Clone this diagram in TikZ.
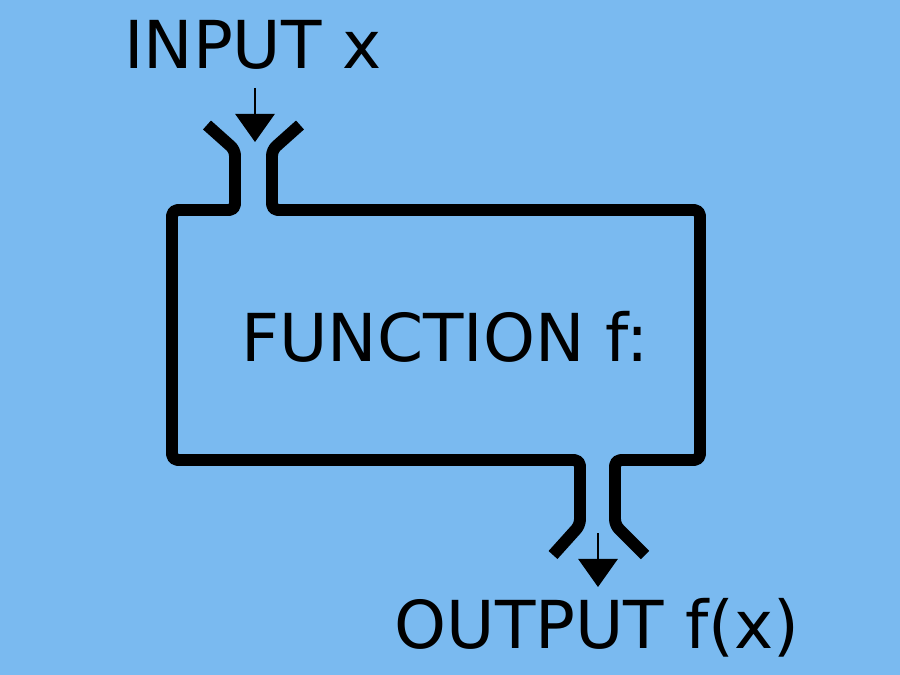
\documentclass[tikz,border=0pt]{standalone}
\usepackage{fontspec}
\setmainfont{DejaVu Sans}
\usetikzlibrary{arrows.meta}
\begin{document}
\begin{tikzpicture}[x=0.025cm, y=-0.025cm, font=\fontsize{47}{48}\selectfont]
	\tikzstyle{wallStyle}=[line width = 8.5pt, line join = round, rounded corners = 4pt]
	\tikzstyle{arrowStyle}=[line width = 1.5pt, -{Triangle[width = 28pt, length = 20pt]}]
	\tikzstyle{labelStyle}=[inner sep = 0pt, anchor = base]
	\fill[fill={rgb,255:red,122;green,186;blue,240}] (0,0) rectangle (900,675);
	\useasboundingbox (0,0) rectangle (900,675);
	\draw[wallStyle] (207,125) -- (235,150) -- (235,210) -- (172,210) -- (172,460) -- (580,460) -- (580,525) -- (553,555);
	\draw[wallStyle] (300,125) -- (272,150) -- (272,210) -- (700,210) -- (700,460) -- (615,460) -- (615,525) -- (645,555);
	\node[labelStyle] (in) at (253,69) {INPUT x};
	\node[labelStyle] (fn) at (445,361) {FUNCTION f:};
	\node[labelStyle] (out) at (597,648) {OUTPUT f(x)};
	\coordinate (inTop) at (255,88);
	\coordinate (inTip) at (255,142);
	\coordinate (outTop) at (598,533);
	\coordinate (outTip) at (598,587);
	\draw[arrowStyle] (inTop) -- (inTip);
	\draw[arrowStyle] (outTop) -- (outTip);
\end{tikzpicture}
\end{document}
